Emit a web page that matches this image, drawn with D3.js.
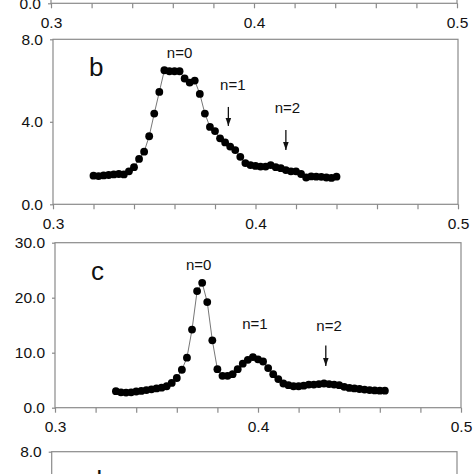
<!DOCTYPE html>
<html>
<head>
<meta charset="UTF-8">
<title></title>
<script src="https://cdn.jsdelivr.net/npm/d3@7/dist/d3.min.js"></script>
<style>
    body{margin:0;background:#fff;}
    text{font-family:"Liberation Sans",Arial,sans-serif;fill:#111;}
</style>
</head>
<body>
</body>
</html>
<script>
    // x ticks shared by all panels
    var xTicks=[0.30,0.32,0.34,0.36,0.38,0.40,0.42,0.44,0.46,0.48,0.50];
    var xLabels=[0.3,0.4,0.5];

    // panel b
    var xB=[0.32,0.3225,0.325,0.3275,0.33,0.3325,0.335,0.3375,0.34,0.3425,0.345,0.3475,0.35,0.3525,0.355,0.3575,0.36,0.3625,0.365,0.3675,0.37,0.3725,0.375,0.3775,0.38,0.3825,0.385,0.3875,0.39,0.3925,0.395,0.3975,0.40,0.4025,0.405,0.4075,0.41,0.4125,0.415,0.4175,0.42,0.4225,0.425,0.4275,0.43,0.4325,0.435,0.4375,0.44];
    var yB=[1.39,1.37,1.40,1.42,1.45,1.47,1.45,1.60,1.80,2.20,2.55,3.30,4.40,5.45,6.50,6.45,6.45,6.45,6.10,5.90,6.00,5.35,4.40,3.75,3.55,3.20,3.00,2.80,2.63,2.30,2.00,1.90,1.86,1.83,1.83,1.90,1.80,1.75,1.66,1.60,1.60,1.47,1.30,1.35,1.34,1.33,1.30,1.28,1.34];
    var yTicksB=[0,4,8];
    var notesB=[["n=0",0.3625,7.08],["n=1",0.3888,5.54],["n=2",0.4158,4.43]];
    var arrowsB=[[0.3866,4.72,3.80],[0.415,3.60,2.63]];

    // panel c
    var xC=[0.33,0.3325,0.335,0.3375,0.34,0.3425,0.345,0.3475,0.35,0.3525,0.355,0.3575,0.36,0.3625,0.365,0.3675,0.37,0.3725,0.375,0.3775,0.38,0.3825,0.385,0.3875,0.39,0.3925,0.395,0.3975,0.40,0.4025,0.405,0.4075,0.41,0.4125,0.415,0.4175,0.42,0.4225,0.425,0.4275,0.43,0.4325,0.435,0.4375,0.44,0.4425,0.445,0.4475,0.45,0.4525,0.455,0.4575,0.46,0.4625];
    var yC=[3.0,2.8,2.75,2.8,2.95,3.05,3.2,3.35,3.5,3.65,3.9,4.5,5.4,6.9,9.1,14.2,21.2,22.7,19.2,12.25,7.0,5.8,5.8,6.1,7.0,8.0,8.7,9.2,8.8,8.4,7.2,6.1,5.2,4.4,4.1,3.9,3.9,4.0,4.2,4.2,4.3,4.4,4.3,4.2,4.1,3.8,3.6,3.5,3.4,3.3,3.2,3.15,3.1,3.1];
    var yTicksC=[0,10,20,30];
    var notesC=[["n=0",0.3708,25.0],["n=1",0.3985,14.4],["n=2",0.435,13.9]];
    var arrowsC=[[0.4334,11.3,7.6]];

    // panels a and d are only partly in view
    var yTicksA=[0,4,8];
    var yTicksD=[0,4,8];

    var W=474,H=474;
    var _svg=d3.select('body').append('svg')
            .attr('width',W).attr('height',H);
    var _defs=_svg.append('defs');
    _defs.append('marker')
            .attr('id','head')
            .attr('viewBox','0 0 10 10')
            .attr('refX',10).attr('refY',5)
            .attr('markerWidth',8).attr('markerHeight',8)
            .attr('markerUnits','userSpaceOnUse')
            .attr('orient','auto')
            .append('path').attr('d','M0,1.5L10,5L0,8.5Z').attr('fill','#111');

    function panel(opt){
        var x=d3.scaleLinear().domain([0.3,0.5]).range([opt.left,opt.right]);
        var y=d3.scaleLinear().domain([0,opt.ymax]).range([opt.bottom,opt.bottom-165]);
        var g=_svg.append('g');

        g.append('rect')
                .attr('x',opt.left).attr('y',opt.bottom-165)
                .attr('width',opt.right-opt.left).attr('height',165)
                .attr('fill','none').attr('stroke','#8a8a8a').attr('stroke-width',1.2);

        var ax=g.append('g')
                .attr('transform','translate(0,'+opt.bottom+')')
                .call(d3.axisBottom(x).tickValues(xTicks).tickSize(5).tickPadding(8.5)
                    .tickFormat(function(d){
                        return xLabels.some(function(v){return Math.abs(v-d)<1e-6;})?d3.format('.1f')(d):'';
                    }));
        var ay=g.append('g')
                .attr('transform','translate('+opt.left+',0)')
                .call(d3.axisLeft(y).tickValues(opt.yticks).tickSize(3).tickPadding(7)
                    .tickFormat(d3.format('.1f')));
        [ax,ay].forEach(function(a){
            a.select('.domain').remove();
            a.selectAll('line').attr('stroke','#8a8a8a').attr('stroke-width',1.2);
            a.selectAll('text').style('font-size','15.5px')
                    .style('font-family','"Liberation Sans",Arial,sans-serif').attr('fill','#111');
        });

        g.append('text')
                .attr('x',opt.left+36).attr('y',opt.bottom-165+37)
                .style('font-size','26px')
                .text(opt.name);

        if(opt.xs){
            var line=d3.line().x(function(d){return x(d[0]);}).y(function(d){return y(d[1]);});
            var pts=opt.xs.map(function(v,i){return [v,opt.ys[i]];});
            g.append('path').datum(pts)
                    .attr('d',line).attr('fill','none')
                    .attr('stroke','#777').attr('stroke-width',1);
            g.selectAll('.dot').data(pts).enter()
                    .append('circle').attr('class','dot')
                    .attr('cx',function(d){return x(d[0]);})
                    .attr('cy',function(d){return y(d[1]);})
                    .attr('r',3.9).attr('fill','#000');
        }
        (opt.notes||[]).forEach(function(n){
            g.append('text')
                    .attr('x',x(n[1])).attr('y',y(n[2]))
                    .attr('text-anchor','middle')
                    .style('font-size','15px')
                    .text(n[0]);
        });
        (opt.arrows||[]).forEach(function(a){
            g.append('line')
                    .attr('x1',x(a[0])).attr('x2',x(a[0]))
                    .attr('y1',y(a[1])).attr('y2',y(a[2]))
                    .attr('stroke','#111').attr('stroke-width',1.3)
                    .attr('marker-end','url(#head)');
        });
    }

    panel({name:'a',left:51,right:457,bottom:3.3,ymax:8,yticks:yTicksA});
    panel({name:'b',left:53,right:458,bottom:204.3,ymax:8,yticks:yTicksB,
        xs:xB,ys:yB,notes:notesB,arrows:arrowsB});
    panel({name:'c',left:55,right:461,bottom:407.7,ymax:30,yticks:yTicksC,
        xs:xC,ys:yC,notes:notesC,arrows:arrowsC});
    panel({name:'d',left:51.7,right:457,bottom:616.7,ymax:8,yticks:yTicksD});
</script>
